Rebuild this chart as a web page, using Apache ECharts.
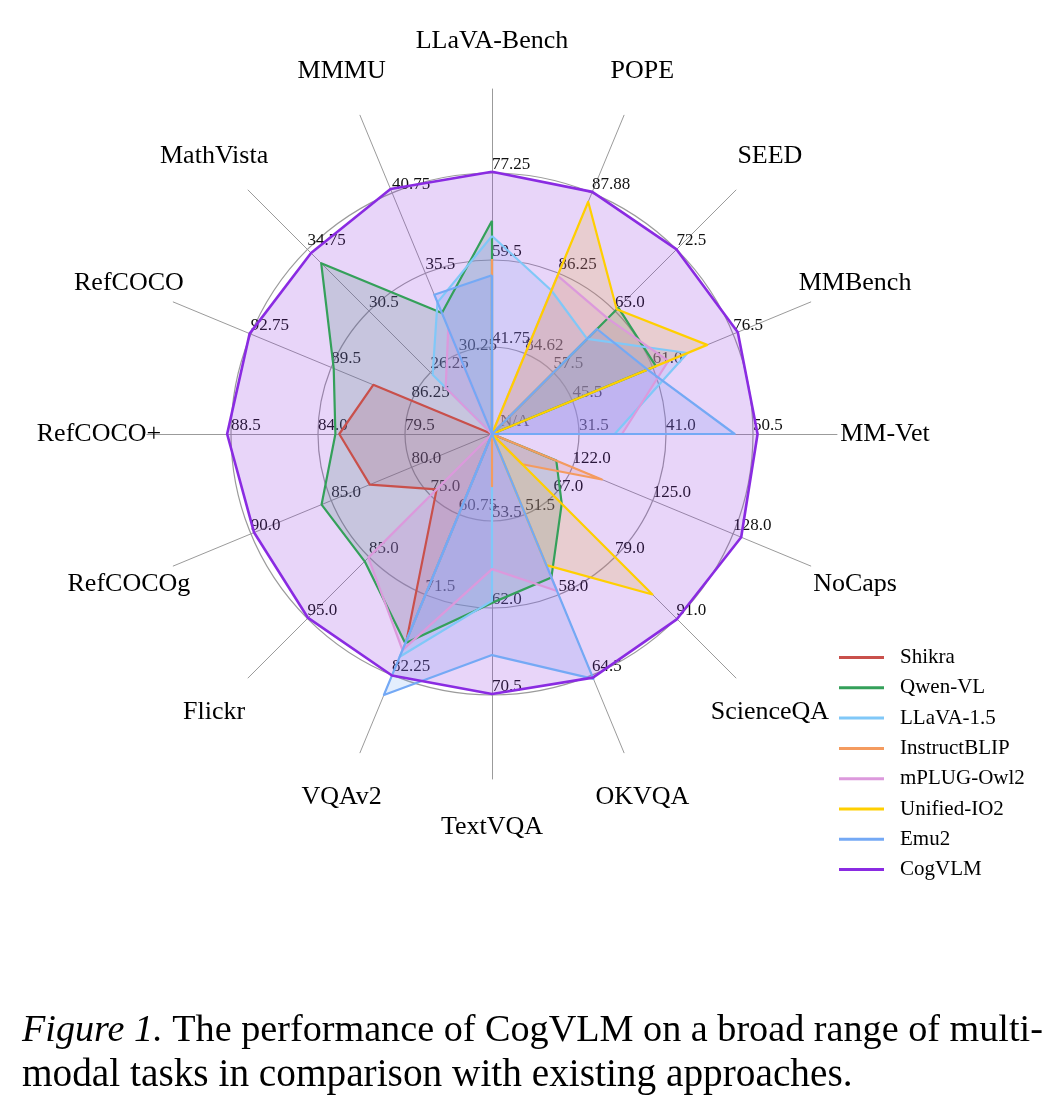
<!DOCTYPE html>
<html>
<head>
<meta charset="utf-8">
<script src="https://cdn.jsdelivr.net/npm/echarts@6/dist/echarts.min.js"></script>
<style>
html,body{margin:0;padding:0;background:#fff;}
#chart{width:1064px;height:1105px;}
</style>
</head>
<body>
<div id="chart"></div>
<script>
// ---- data ----
const axisNames = ['LLaVA-Bench','POPE','SEED','MMBench','MM-Vet','NoCaps','ScienceQA','OKVQA','TextVQA','VQAv2','Flickr','RefCOCOg','RefCOCO+','RefCOCO','MathVista','MMMU'];
const axisMin = [24, 82.99, 50, 30, 22, 119, 55, 45, 45, 50, 65, 75, 75, 83, 22, 25];
const axisMax = [77.25, 87.88, 72.5, 76.5, 50.5, 128, 91, 64.5, 70.5, 82.25, 95, 90, 88.5, 92.75, 34.75, 40.75];

const models = ['Shikra','Qwen-VL','LLaVA-1.5','InstructBLIP','mPLUG-Owl2','Unified-IO2','Emu2','CogVLM'];
// null = N/A (drawn at the centre)
const shikra      = [null, null, null, null, null, null, null, null, null, 77.6, 74.0, 82.6, 82.9, 87.8, null, null];
const qwenVL      = [67.5, null, 65.4, 61.6, null, 121.4, 68.6, 56.6, 61.5, 78.0, 85.7, 85.6, 83.1, 89.4, 33.8, 32.9];
const llava15     = [64.4, 85.9, 61.6, 67.7, 35.4, null, null, null, 61.3, 79.8, null, null, null, null, 26.1, 33.6];
const instructBLIP= [59.7, null, 58.1, null, null, 123.1, 60.9, null, 50.1, null, null, null, null, null, null, null];
const mplugOwl2   = [null, 86.2, 64.1, 64.0, 36.2, null, null, 57.7, 58.2, 78.9, 85.1, null, null, null, 25.2, 31.9];
const unifiedIO2  = [null, 87.7, 65.2, 71.5, null, null, 86.3, 55.6, null, null, null, null, null, null, null, null];
const emu2        = [56.4, null, 62.8, 60.0, 48.5, null, null, 64.8, 66.6, 84.9, null, null, null, null, null, 34.1];
const cogVLM      = [77.5, 87.9, 72.5, 77.4, 51.0, 128.3, 91.1, 64.7, 70.4, 82.3, 94.9, 89.8, 88.7, 92.8, 34.5, 41.0];
const seriesValues = [shikra, qwenVL, llava15, instructBLIP, mplugOwl2, unifiedIO2, emu2, cogVLM];

const colors = ['#c9504b','#34a05a','#80c8f8','#f49b5f','#dc99dc','#ffcf00','#74a9f5','#8a2be2'];

// ---- helpers ----
const FONT = '"Liberation Serif", "Times New Roman", serif';
function pyFmt(v){
  const r = Math.round(v * 100) / 100;
  let s = String(r);
  if (s.indexOf('.') < 0) s += '.0';
  return s;
}
// ECharts lays radar indicators out counter-clockwise; the figure runs clockwise.
const order = [0].concat(axisNames.map((_, k) => k).slice(1).reverse());
const perm = arr => order.map(k => arr[k]);

const CX = 492, CY = 434;

const chart = echarts.init(document.getElementById('chart'), null, {renderer: 'canvas'});

const fillSeries = models.map((m, i) => ({
  type: 'radar', radarIndex: 0, name: m, symbol: 'none', z: 2,
  lineStyle: {width: 0, opacity: 0},
  itemStyle: {color: colors[i]},
  areaStyle: {color: colors[i], opacity: 0.2},
  data: [{name: m, value: perm(seriesValues[i].map((v, k) => v == null ? axisMin[k] : v)),
          itemStyle: {color: colors[i]}}]
}));
const lineSeries = models.map((m, i) => ({
  type: 'radar', radarIndex: 0, name: m, symbol: 'none', z: 3,
  lineStyle: {color: colors[i], width: m === 'CogVLM' ? 2.6 : 2.2},
  itemStyle: {color: colors[i]},
  data: [{name: m, value: perm(seriesValues[i].map((v, k) => v == null ? axisMin[k] : v)),
          itemStyle: {color: colors[i]}}]
}));

const option = {
  animation: false,
  backgroundColor: '#fff',
  radar: [
    { // scales, circles, tick labels
      center: [CX, CY], radius: 261, shape: 'circle', splitNumber: 3, startAngle: 90,
      indicator: perm(axisNames.map((n, k) => ({name: n, min: axisMin[k], max: axisMax[k]}))),
      axisName: {show: false},
      axisLine: {show: false},
      axisTick: {show: false},
      splitArea: {show: false},
      splitLine: {show: true, lineStyle: {color: '#9b9b9b', width: 1.2}},
      axisLabel: {
        show: true, margin: 0, align: 'left', verticalAlign: 'bottom',
        fontFamily: FONT, fontSize: 17, color: '#111',
        formatter: function (v, i) {
          if (i === 0) return Math.abs(v - 82.99) < 1e-6 ? '{na|N/A}' : '';
          return pyFmt(v);
        },
        rich: {na: {fontFamily: FONT, fontSize: 17, color: '#333', padding: [0, 0, 4, 8]}}
      }
    },
    { // long spokes
      center: [CX, CY], radius: 345, shape: 'circle', splitNumber: 1, startAngle: 90,
      indicator: perm(axisNames.map(n => ({name: n, min: 0, max: 1}))),
      axisName: {show: false},
      axisLine: {show: true, lineStyle: {color: '#9b9b9b', width: 1}},
      axisTick: {show: false},
      axisLabel: {show: false},
      splitArea: {show: false},
      splitLine: {show: false}
    },
    { // axis names, centred on a ring
      center: [CX, CY], radius: 393, shape: 'circle', splitNumber: 1, startAngle: 90,
      indicator: perm(axisNames.map((n, k) => ({name: n, min: 0, max: k + 1}))),
      axisName: {show: false},
      axisLine: {show: false},
      axisTick: {show: false},
      splitArea: {show: false},
      splitLine: {show: false},
      axisLabel: {
        show: true, margin: 0, align: 'center', verticalAlign: 'middle',
        fontFamily: FONT, fontSize: 26, color: '#000',
        showMinLabel: false,
        formatter: function (v, i) { return i === 0 ? '' : axisNames[Math.round(v) - 1]; }
      }
    }
  ],
  legend: {
    orient: 'vertical', left: 834, top: 642,
    itemWidth: 45, itemHeight: 3, itemGap: 9.3, icon: 'rect',
    textStyle: {fontFamily: FONT, fontSize: 21, color: '#000', padding: [0, 0, 0, 11]},
    data: models
  },
  series: fillSeries.concat(lineSeries),
  graphic: [
    {type: 'text', left: 22, top: 1012, style: {
      text: '{i|Figure 1.} The performance of CogVLM on a broad range of multi-',
      font: '38.2px ' + FONT, fill: '#000',
      rich: {i: {fontStyle: 'italic', fontFamily: FONT, fontSize: 38.2, fill: '#000'}}
    }},
    {type: 'text', left: 22, top: 1056, style: {
      text: 'modal tasks in comparison with existing approaches.',
      font: '39.3px ' + FONT, fill: '#000'
    }}
  ]
};
chart.setOption(option);
</script>
</body>
</html>
